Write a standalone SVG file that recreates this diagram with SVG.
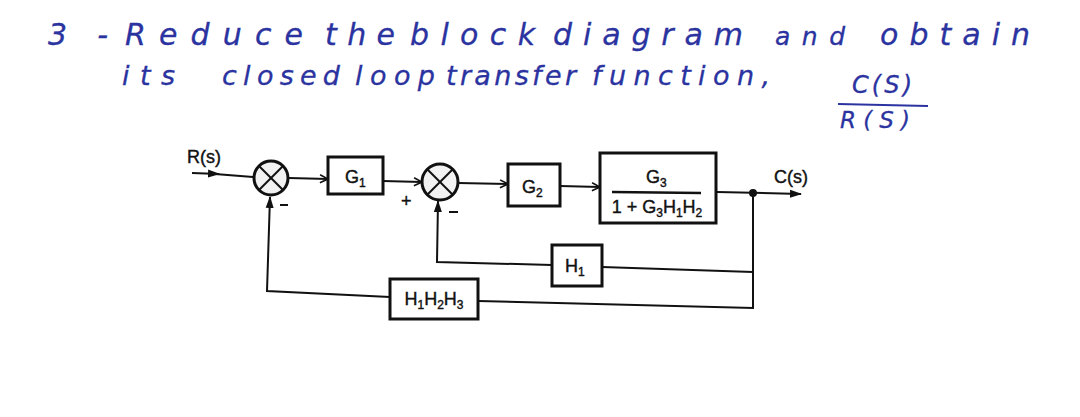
<svg xmlns="http://www.w3.org/2000/svg" width="1080" height="417" viewBox="0 0 1080 417">
<defs>
<style>
.hw{font-family:"DejaVu Sans","Liberation Sans",sans-serif;font-style:italic;fill:#2b33a0;stroke:#2b33a0;stroke-width:0.3}
.blk{fill:none;stroke:#111;stroke-width:3}
.ln{fill:none;stroke:#111;stroke-width:2}
.lbl{font-family:"Liberation Sans",Arial,sans-serif;font-size:18px;fill:#111;stroke:#111;stroke-width:0.4}
.sub{font-size:12px}
.sum{fill:#f2f2f2;stroke:#111;stroke-width:3}
</style>
<marker id="open" viewBox="0 0 10 10" refX="9" refY="5" markerWidth="10" markerHeight="10" markerUnits="userSpaceOnUse" orient="auto">
<path d="M1,1 L9,5 L1,9" fill="none" stroke="#111" stroke-width="1.6"/>
</marker>
<marker id="fill" viewBox="0 0 12 10" refX="11" refY="5" markerWidth="12" markerHeight="10" markerUnits="userSpaceOnUse" orient="auto">
<path d="M0,1 L12,5 L0,9 z" fill="#111"/>
</marker>
</defs>
<rect width="1080" height="417" fill="#fff"/>

<g id="title">
<text class="hw" font-size="30" x="48" y="45" textLength="60" lengthAdjust="spacing">3-</text>
<text class="hw" font-size="30" x="125" y="45" textLength="178" lengthAdjust="spacing">Reduce</text>
<text class="hw" font-size="30" x="325" y="45" textLength="70" lengthAdjust="spacing">the</text>
<text class="hw" font-size="30" x="410" y="45" textLength="125" lengthAdjust="spacing">block</text>
<text class="hw" font-size="30" x="553" y="45" textLength="190" lengthAdjust="spacing">diagram</text>
<text class="hw" font-size="25" x="775" y="45" textLength="70" lengthAdjust="spacing">and</text>
<text class="hw" font-size="30" x="880" y="45" textLength="150" lengthAdjust="spacing">obtain</text>
<text class="hw" font-size="27" x="122" y="85" textLength="53" lengthAdjust="spacing">its</text>
<text class="hw" font-size="27" x="222" y="85" textLength="118" lengthAdjust="spacing">closed</text>
<text class="hw" font-size="27" x="355" y="85" textLength="80" lengthAdjust="spacing">loop</text>
<text class="hw" font-size="27" x="446" y="85" textLength="130" lengthAdjust="spacing">transfer</text>
<text class="hw" font-size="27" x="592" y="85" textLength="178" lengthAdjust="spacing">function,</text>
<text class="hw" font-size="24" x="852" y="93" textLength="60" lengthAdjust="spacing">C(S)</text>
<line x1="838" y1="104" x2="928" y2="106" stroke="#2b33a0" stroke-width="2"/>
<text class="hw" font-size="23" x="840" y="128" textLength="70" lengthAdjust="spacing">R(S)</text>
</g>

<g id="connectors">
<polyline class="ln" points="192,173 219,174" marker-end="url(#fill)"/>
<line class="ln" x1="215" y1="174" x2="253" y2="177"/>
<line class="ln" x1="289" y1="178" x2="328" y2="179" marker-end="url(#open)"/>
<line class="ln" x1="383" y1="181" x2="422" y2="182" marker-end="url(#open)"/>
<line class="ln" x1="458" y1="183" x2="508" y2="184" marker-end="url(#open)"/>
<line class="ln" x1="560" y1="186" x2="600" y2="187" marker-end="url(#open)"/>
<line class="ln" x1="717" y1="192" x2="801" y2="194" marker-end="url(#fill)"/>
<circle cx="753" cy="193" r="4" fill="#111"/>
<polyline class="ln" points="753,193 753,308 478,301"/>
<line class="ln" x1="753" y1="272" x2="602" y2="267"/>
<polyline class="ln" points="552,265 437,262 438,201" marker-end="url(#fill)"/>
<polyline class="ln" points="390,297 267,291 270,197" marker-end="url(#fill)"/>
</g>

<g id="R">
<text class="lbl" x="187" y="163" font-size="15">R(s)</text>
</g>
<g id="sum1">
<circle class="sum" cx="271" cy="178" r="17"/>
<line class="ln" x1="259" y1="166" x2="283" y2="190" stroke-width="2.5"/>
<line class="ln" x1="283" y1="166" x2="259" y2="190" stroke-width="2.5"/>
<line class="ln" x1="280" y1="205" x2="288" y2="205"/>
</g>
<g id="G1">
<rect class="blk" x="328" y="157" width="55" height="37"/>
<text class="lbl" x="345" y="183">G<tspan class="sub" dy="4">1</tspan></text>
</g>
<g id="sum2">
<circle class="sum" cx="440" cy="182" r="18"/>
<line class="ln" x1="427" y1="169" x2="453" y2="195" stroke-width="2.5"/>
<line class="ln" x1="453" y1="169" x2="427" y2="195" stroke-width="2.5"/>
<text class="lbl" x="401" y="207" font-size="15">+</text>
<line class="ln" x1="449" y1="212" x2="458" y2="212"/>
</g>
<g id="G2">
<rect class="blk" x="508" y="164" width="52" height="42"/>
<text class="lbl" x="522" y="193">G<tspan class="sub" dy="4">2</tspan></text>
</g>
<g id="G3block">
<rect class="blk" x="600" y="153" width="116" height="70"/>
<text class="lbl" x="646" y="183">G<tspan class="sub" dy="4">3</tspan></text>
<line x1="612" y1="192" x2="701" y2="193" stroke="#111" stroke-width="2.5"/>
<text class="lbl" x="657" y="213" text-anchor="middle">1 + G<tspan class="sub" dy="4">3</tspan><tspan dy="-4">H</tspan><tspan class="sub" dy="4">1</tspan><tspan dy="-4">H</tspan><tspan class="sub" dy="4">2</tspan></text>
</g>
<g id="C">
<text class="lbl" x="774" y="183" font-size="15">C(s)</text>
</g>
<g id="H1">
<rect class="blk" x="552" y="245" width="50" height="41"/>
<text class="lbl" x="565" y="272">H<tspan class="sub" dy="4">1</tspan></text>
</g>
<g id="H1H2H3">
<rect class="blk" x="390" y="279" width="88" height="40"/>
<text class="lbl" x="434" y="305" text-anchor="middle">H<tspan class="sub" dy="4">1</tspan><tspan dy="-4">H</tspan><tspan class="sub" dy="4">2</tspan><tspan dy="-4">H</tspan><tspan class="sub" dy="4">3</tspan></text>
</g>
</svg>
